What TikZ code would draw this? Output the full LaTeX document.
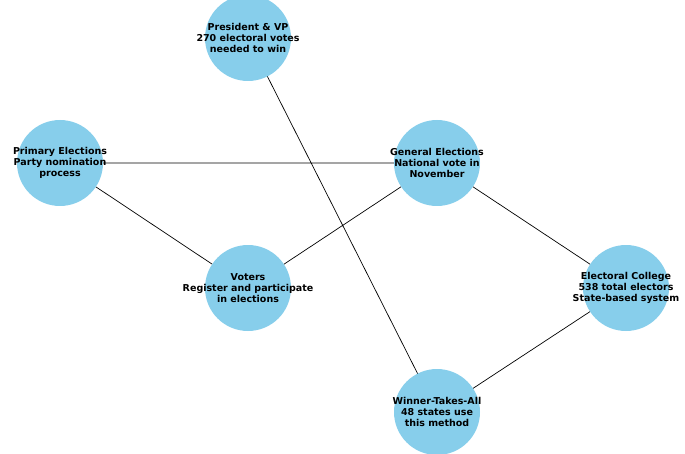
\documentclass[tikz,border=0pt]{standalone}
\usepackage{fontspec}
\setmainfont{DejaVu Sans}
\begin{document}
\begin{tikzpicture}[x=1pt,y=1pt,
  nd/.style={circle,fill={rgb,255:red,135;green,206;blue,235},minimum size=86pt,inner sep=0pt},
  lb/.style={align=center,font=\bfseries\fontsize{9.5}{11}\selectfont},
  ed/.style={draw=black,line width=0.7pt}]
\useasboundingbox (0,0) rectangle (685,453);
\clip (0,0) rectangle (685,453);
\coordinate (p) at (248,415);
\coordinate (q) at (60,290);
\coordinate (g) at (437,290);
\coordinate (v) at (248,165);
\coordinate (e) at (626,165);
\coordinate (w) at (437,41);
\draw[ed] (p)--(w) (q)--(g) (q)--(v) (v)--(g) (g)--(e) (e)--(w);
\foreach \n in {p,q,g,v,e,w} \node[nd] (\n n) at (\n) {};
\node[lb] (pl) at (p) {President \& VP\\270 electoral votes\\needed to win};
\node[lb] (ql) at (q) {Primary Elections\\Party nomination\\process};
\node[lb] (gl) at (g) {General Elections\\National vote in\\November};
\node[lb] (vl) at (v) {Voters\\Register and participate\\in elections};
\node[lb] (el) at (e) {Electoral College\\538 total electors\\State-based system};
\node[lb] (wl) at (w) {Winner-Takes-All\\48 states use\\this method};
\end{tikzpicture}
\end{document}
